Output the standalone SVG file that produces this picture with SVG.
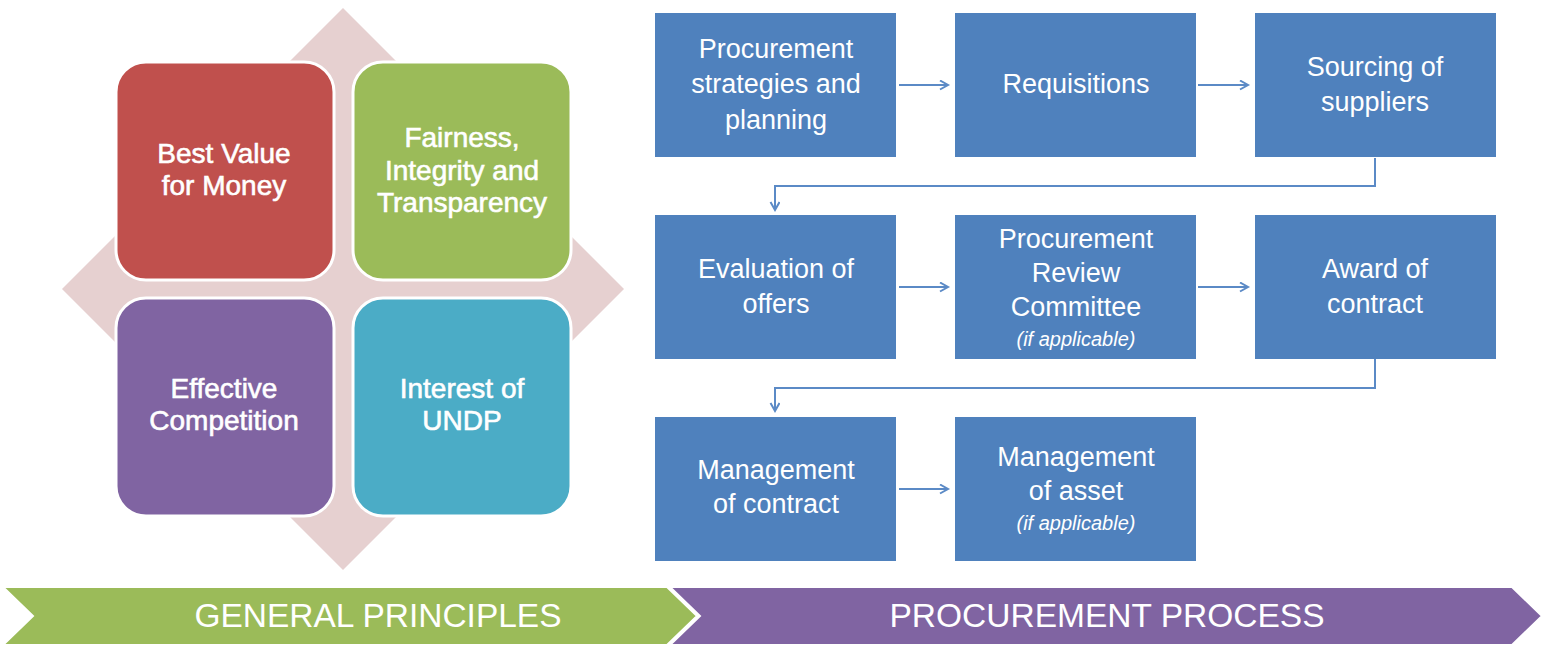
<svg xmlns="http://www.w3.org/2000/svg" width="1544" height="654" viewBox="0 0 1544 654">
<style>
.t{font-family:"Liberation Sans",Arial,sans-serif;fill:#fff;text-anchor:middle}
.p{font-size:28px;stroke:#fff;stroke-width:0.6px}
.b{font-size:27px}
.i{font-size:20px;font-style:italic}
.box{fill:#4F81BD}
.q{stroke:#fff;stroke-width:3}
.c{fill:none;stroke:#5B8AC6;stroke-width:2;marker-end:url(#ah)}
.band{font-size:34px}
</style>
<defs>
<marker id="ah" markerWidth="12" markerHeight="12" refX="9" refY="5" orient="auto" markerUnits="userSpaceOnUse">
<path d="M1,0.5 L9,5 L1,9.5" fill="none" stroke="#5B8AC6" stroke-width="2"/>
</marker>
</defs>
<rect width="1544" height="654" fill="#fff"/>
<g id="principles">
<polygon points="343,8 624,289 343,570 62,289" fill="#E6D0D0"/>
<g id="best-value"><rect class="q" x="116" y="62" width="218" height="218" rx="30" fill="#C0504D"/>
<text class="t p" x="224" y="163">Best Value</text><text class="t p" x="224" y="195">for Money</text></g>
<g id="fairness"><rect class="q" x="353" y="62" width="218" height="218" rx="30" fill="#9BBB59"/>
<text class="t p" x="462" y="147">Fairness,</text><text class="t p" x="462" y="180">Integrity and</text><text class="t p" x="462" y="212">Transparency</text></g>
<g id="competition"><rect class="q" x="116" y="298" width="218" height="218" rx="30" fill="#8064A2"/>
<text class="t p" x="224" y="398">Effective</text><text class="t p" x="224" y="430">Competition</text></g>
<g id="interest"><rect class="q" x="353" y="298" width="218" height="218" rx="30" fill="#4BACC6"/>
<text class="t p" x="462" y="398">Interest of</text><text class="t p" x="462" y="430">UNDP</text></g>
</g>
<g id="connectors">
<path class="c" d="M899,85 L948,85"/>
<path class="c" d="M1198,85 L1248,85"/>
<path class="c" d="M1375,158 L1375,186 L775,186 L775,210"/>
<path class="c" d="M899,287 L948,287"/>
<path class="c" d="M1198,287 L1248,287"/>
<path class="c" d="M1375,359 L1375,388 L775,388 L775,411"/>
<path class="c" d="M899,489 L948,489"/>
</g>
<g id="n1"><rect class="box" x="655" y="13" width="241" height="144"/>
<text class="t b" x="776" y="58">Procurement</text><text class="t b" x="776" y="93">strategies and</text><text class="t b" x="776" y="129">planning</text></g>
<g id="n2"><rect class="box" x="955" y="13" width="241" height="144"/>
<text class="t b" x="1076" y="93">Requisitions</text></g>
<g id="n3"><rect class="box" x="1255" y="13" width="241" height="144"/>
<text class="t b" x="1375" y="76">Sourcing of</text><text class="t b" x="1375" y="111">suppliers</text></g>
<g id="n4"><rect class="box" x="655" y="215" width="241" height="144"/>
<text class="t b" x="776" y="278">Evaluation of</text><text class="t b" x="776" y="313">offers</text></g>
<g id="n5"><rect class="box" x="955" y="215" width="241" height="144"/>
<text class="t b" x="1076" y="248">Procurement</text><text class="t b" x="1076" y="282">Review</text><text class="t b" x="1076" y="316">Committee</text><text class="t i" x="1076" y="346">(if applicable)</text></g>
<g id="n6"><rect class="box" x="1255" y="215" width="241" height="144"/>
<text class="t b" x="1375" y="278">Award of</text><text class="t b" x="1375" y="313">contract</text></g>
<g id="n7"><rect class="box" x="655" y="417" width="241" height="144"/>
<text class="t b" x="776" y="479">Management</text><text class="t b" x="776" y="513">of contract</text></g>
<g id="n8"><rect class="box" x="955" y="417" width="241" height="144"/>
<text class="t b" x="1076" y="466">Management</text><text class="t b" x="1076" y="500">of asset</text><text class="t i" x="1076" y="530">(if applicable)</text></g>
<g id="band-general">
<polygon points="3,587 667,587 697,616 667,645 3,645 33,616" fill="#9BBB59" stroke="#fff" stroke-width="2"/>
<text class="t band" x="378" y="627" textLength="367" lengthAdjust="spacingAndGlyphs">GENERAL PRINCIPLES</text>
</g>
<g id="band-process">
<polygon points="670,587 1512,587 1542,616 1512,645 670,645 700,616" fill="#8064A2" stroke="#fff" stroke-width="2"/>
<text class="t band" x="1107" y="627" textLength="435" lengthAdjust="spacingAndGlyphs">PROCUREMENT PROCESS</text>
</g>
</svg>
